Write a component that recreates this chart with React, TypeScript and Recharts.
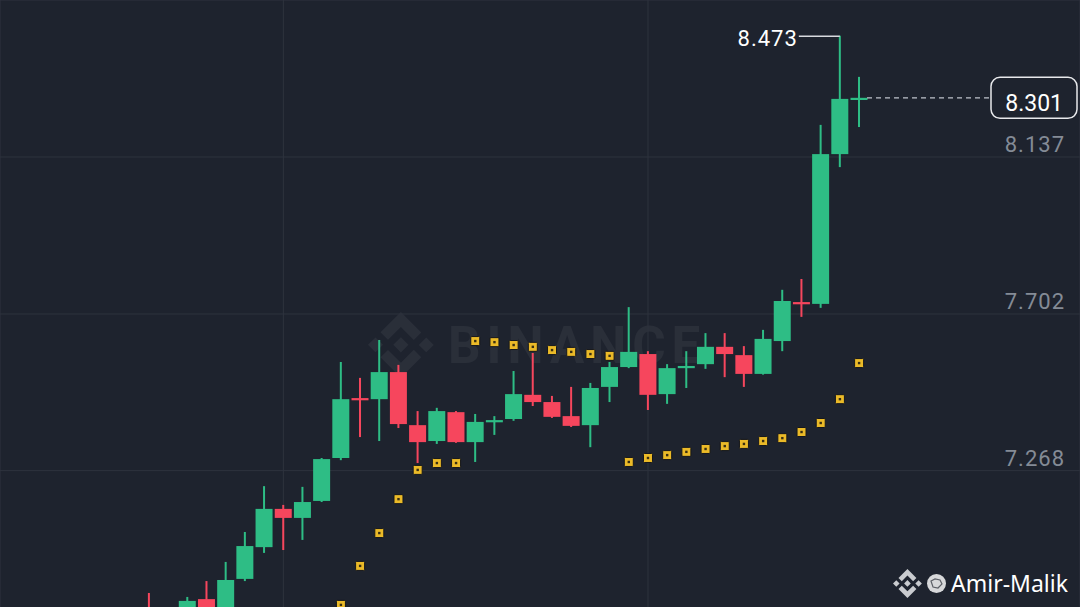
import React from "react";
import {
  Bar,
  CartesianGrid,
  ComposedChart,
  Line,
  ReferenceLine,
  XAxis,
  YAxis
} from "recharts";

const WIDTH = 1080;
const HEIGHT = 650;
const BG = "#1E232E";
const GRID = "#2E333E";
const GREEN = "#2EBD85";
const RED = "#F6465D";
const FONT = "Roboto, sans-serif";

const times = [
  "05:00", "06:00", "07:00", "08:00", "09:00", "10:00", "11:00", "12:00",
  "13:00", "14:00", "15:00", "16:00", "17:00", "18:00", "19:00", "20:00",
  "21:00", "22:00", "23:00", "00:00", "01:00", "02:00", "03:00", "04:00",
  "05:00 ", "06:00 ", "07:00 ", "08:00 ", "09:00 ", "10:00 ", "11:00 ", "12:00 ",
  "13:00 ", "14:00 ", "15:00 ", "16:00 ", "17:00 ", "18:00 "
];

const opens = [
  6.876, 6.832, 6.86, 6.912, 6.876, 6.968, 7.056, 7.162, 7.137, 7.184,
  7.303, 7.469, 7.466, 7.541, 7.394, 7.35, 7.43, 7.347, 7.403, 7.411,
  7.478, 7.458, 7.419, 7.394, 7.5, 7.555, 7.591, 7.48, 7.552, 7.563,
  7.611, 7.588, 7.536, 7.627, 7.735, 7.73, 8.145, 8.298
];
const highs = [
  6.929, 6.882, 6.918, 6.962, 7.015, 7.098, 7.225, 7.173, 7.223, 7.303,
  7.569, 7.525, 7.63, 7.561, 7.433, 7.442, 7.433, 7.425, 7.419, 7.544,
  7.594, 7.475, 7.5, 7.511, 7.569, 7.721, 7.599, 7.563, 7.599, 7.649,
  7.649, 7.613, 7.658, 7.769, 7.799, 8.226, 8.473, 8.359
];
const lows = [
  6.821, 6.81, 6.849, 6.865, 6.868, 6.962, 7.04, 7.048, 7.076, 7.181,
  7.297, 7.361, 7.35, 7.386, 7.289, 7.342, 7.345, 7.292, 7.367, 7.406,
  7.447, 7.414, 7.389, 7.333, 7.458, 7.552, 7.436, 7.453, 7.497, 7.55,
  7.527, 7.5, 7.534, 7.599, 7.694, 7.719, 8.109, 8.22
];
const closes = [
  6.84, 6.871, 6.907, 6.876, 6.965, 7.059, 7.162, 7.137, 7.181, 7.3,
  7.466, 7.464, 7.541, 7.397, 7.347, 7.433, 7.347, 7.403, 7.408, 7.48,
  7.458, 7.417, 7.392, 7.497, 7.555, 7.597, 7.478, 7.552, 7.558, 7.611,
  7.591, 7.536, 7.633, 7.738, 7.73, 8.145, 8.298, 8.301
];
// parabolic SAR, nothing visible before the 10th candle
const sar = [
  null, null, null, null, null, null, null, null, null, 6.79,
  6.896, 7.004, 7.095, 7.189, 7.27, 7.289, 7.289, 7.627, 7.624, 7.616,
  7.611, 7.602, 7.597, 7.591, 7.586, 7.292, 7.303, 7.311, 7.32, 7.328,
  7.336, 7.342, 7.35, 7.358, 7.375, 7.4, 7.466, 7.566
];

const priceTicks = [8.137, 7.702, 7.268, 6.833];
const timeGrid = [times[7], times[26]];
const priceDomain = [6.771, 8.572];

const data = times.map((time, i) => ({
  time,
  open: opens[i],
  high: highs[i],
  low: lows[i],
  close: closes[i],
  range: [lows[i], highs[i]],
  sar: sar[i]
}));

const maxIdx = highs.indexOf(Math.max(...highs));
const lastIdx = closes.length - 1;

function Candle(props: any) {
  const { x, y, width, height, payload } = props;
  if (x == null || y == null) return <g />;
  const { open, close, high, low, time } = payload;
  const top = Math.min(y, y + height);
  const bottom = Math.max(y, y + height);
  const toY = (v: number) => top + ((high - v) / (high - low)) * (bottom - top);
  const color = close >= open ? GREEN : RED;
  const cx = x + width / 2;
  const bodyTop = toY(Math.max(open, close));
  const bodyH = Math.max(toY(Math.min(open, close)) - bodyTop, 2.2);

  const isMax = time === times[maxIdx];
  const isLast = time === times[lastIdx];
  const lastY = toY(close);

  return (
    <g>
      <rect x={cx - 1} y={top} width={2} height={bottom - top} fill={color} />
      <rect x={x} y={bodyTop} width={width} height={bodyH} fill={color} />
      {isMax && (
        <g>
          <line x1={cx - 41} x2={cx} y1={top + 0.5} y2={top + 0.5} stroke="#D8DADF" strokeWidth={1.5} />
          <text x={cx - 42} y={top + 10} textAnchor="end" fill="#FFFFFF" fontSize={22} letterSpacing={1} fontFamily={FONT}>
            {high.toFixed(3)}
          </text>
        </g>
      )}
      {isLast && (
        <g>
          <line x1={cx + 8} x2={WIDTH - 89} y1={lastY} y2={lastY} stroke="#BFC3CB" strokeWidth={1.3} strokeDasharray="5 4" />
          <rect x={WIDTH - 89} y={lastY - 20.5} width={86} height={41} rx={9} fill={BG} stroke="#E8E9EC" strokeWidth={1.5} />
          <text x={WIDTH - 17} y={lastY + 13} textAnchor="end" fill="#FFFFFF" fontSize={23} fontFamily={FONT}>
            {close.toFixed(3)}
          </text>
        </g>
      )}
    </g>
  );
}

function SarDot(props: any) {
  const { cx, cy, value } = props;
  if (value == null || cy == null || isNaN(cy)) return <g />;
  return (
    <g>
      <rect x={cx - 4.5} y={cy - 4.5} width={9} height={9} rx={1} fill="#EBBA28" stroke="#15171C" strokeWidth={1} />
      <rect x={cx - 1.2} y={cy - 1.2} width={2.4} height={2.4} fill="#3A2F12" />
    </g>
  );
}

function priceLabel(value: number) {
  return (props: any) => {
    const vb = props.viewBox || {};
    return (
      <text
        x={vb.x + vb.width - 15}
        y={vb.y - 5}
        textAnchor="end"
        fill="#848B96"
        fontSize={22}
        letterSpacing={1}
        fontFamily={FONT}
      >
        {value.toFixed(3)}
      </text>
    );
  };
}

function BinanceLogo({ size, color }: { size: number; color: string }) {
  return (
    <svg width={size} height={size} viewBox="0 0 126 126">
      <path
        fill={color}
        d="M38.171 53.203L62.759 28.616l24.6 24.6 14.307-14.307L62.759 0 23.864 38.896z M0 62.759l14.307-14.307 14.307 14.307-14.307 14.307z M38.171 72.315l24.588 24.587 24.599-24.599 14.315 14.299L62.759 125.51 23.864 86.603z M96.905 62.765l14.307-14.307 14.307 14.307-14.307 14.307z M77.271 62.752L62.759 48.234 48.235 62.759 62.759 77.283z"
      />
    </svg>
  );
}

export default function App() {
  return (
    <div
      style={{
        position: "fixed",
        left: 0,
        top: 0,
        width: WIDTH,
        height: 607,
        overflow: "hidden",
        background: BG
      }}
    >
      {/* watermark sits under the chart */}
      <div
        style={{
          position: "absolute",
          left: 368,
          top: 312,
          display: "flex",
          alignItems: "center",
          gap: 14,
          opacity: 0.05
        }}
      >
        <BinanceLogo size={66} color="#FFFFFF" />
        <span style={{ fontFamily: FONT, fontWeight: 700, fontSize: 51, letterSpacing: 6, color: "#FFFFFF" }}>
          BINANCE
        </span>
      </div>

      <div style={{ position: "absolute", left: 0, top: 0 }}>
        <ComposedChart width={WIDTH} height={HEIGHT} data={data} margin={{ top: 0, right: 0, bottom: 0, left: 0 }}>
          <CartesianGrid stroke={GRID} strokeWidth={1} />
          <XAxis dataKey="time" hide ticks={timeGrid} interval={0} padding={{ left: 139.4, right: 211.3 }} />
          <YAxis hide domain={priceDomain} ticks={priceTicks} interval={0} allowDataOverflow />
          <Bar dataKey="range" barSize={17} shape={Candle} isAnimationActive={false} />
          <Line
            dataKey="sar"
            stroke="none"
            dot={SarDot}
            activeDot={false}
            isAnimationActive={false}
          />
          {priceTicks.map((v) => (
            <ReferenceLine key={v} y={v} stroke="none" label={priceLabel(v)} />
          ))}
        </ComposedChart>
      </div>

      <div
        style={{
          position: "absolute",
          left: 893,
          top: 568,
          display: "flex",
          alignItems: "center",
          gap: 4
        }}
      >
        <BinanceLogo size={29} color="#C9CBCF" />
        <svg width={21} height={21} viewBox="0 0 21 21">
          <circle cx={10.5} cy={10.5} r={9.5} fill="#D7D8DA" />
          <path d="M5 8 L9 6 L14 7 L16 11 L12 15 L7 14 Z" fill="none" stroke="#5C5F66" strokeWidth={1.2} />
        </svg>
        <span style={{ fontFamily: "'Noto Sans', sans-serif", fontSize: 23, color: "#FFFFFF", lineHeight: "30px" }}>
          Amir-Malik
        </span>
      </div>
    </div>
  );
}
